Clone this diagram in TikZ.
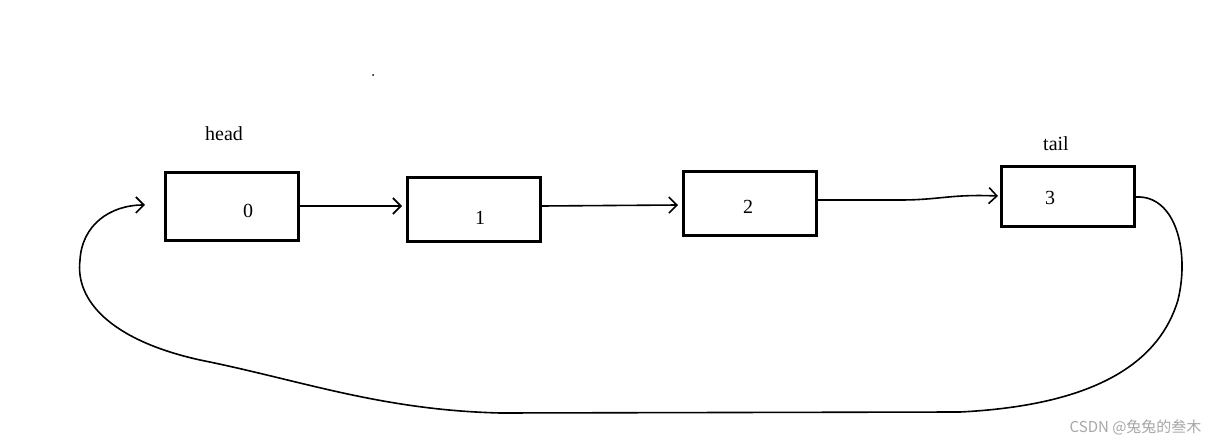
\documentclass[tikz,border=0pt]{standalone}
\usepackage{fontspec}
\setmainfont{Liberation Serif}
\newfontfamily\cjk{Noto Sans CJK SC}
\usetikzlibrary{arrows.meta}
\begin{document}
\begin{tikzpicture}[x=1pt,y=-1pt,
  box/.style={draw,line width=3pt,minimum width=133pt,minimum height=64pt,inner sep=0pt},
  lbl/.style={font=\fontsize{20}{20}\selectfont},
  conn/.style={line width=1.6pt,-{Straight Barb[length=8pt,width=16pt,line width=1.6pt]}}]
\useasboundingbox (0,0) rectangle (1219,446);
\node[box,minimum height=68pt] (b0) at (231.5,207) {};
\node[box] (b1) at (474,210) {};
\node[box] (b2) at (750,204) {};
\node[box,minimum height=60pt] (b3) at (1068,197) {};
\node[lbl] (t0) at (248,211) {0};
\node[lbl] (t1) at (480,218) {1};
\node[lbl] (t2) at (748,207) {2};
\node[lbl] (t3) at (1050,198) {3};
\node[lbl] (head) at (224,134) {head};
\node[lbl] (tail) at (1056,144) {tail};
\fill (373,75) circle (1pt);
\coordinate (e0) at (402,206);
\coordinate (e1) at (678,205);
\coordinate (e2) at (998,196);
\coordinate (e3) at (145,205);
\draw[conn] (b0.east |- 0,206) -- (e0);
\draw[conn] (b1.east |- 0,206) -- (e1);
\draw[conn] (b2.east |- 0,200) -- (900,200) .. controls (940,200) and (950,194) .. (e2);
\draw[conn] (b3.east |- 0,197) .. controls (1175,195) and (1190,250) .. (1178,300)
  .. controls (1160,360) and (1100,405) .. (960,412)
  -- (500,413) .. controls (380,410) and (300,380) .. (200,360)
  .. controls (110,340) and (75,300) .. (80,260)
  .. controls (82,225) and (110,205) .. (e3);
\node[text=gray!70,font=\cjk\fontsize{15}{15}\selectfont,anchor=east] (wm) at (1205,427) {CSDN @兔兔的叁木};
\end{tikzpicture}
\end{document}
